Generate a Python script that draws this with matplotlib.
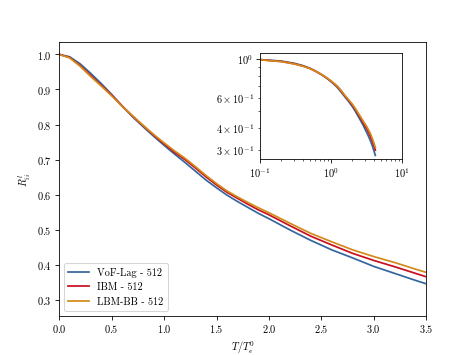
import matplotlib
matplotlib.use("Agg")
import matplotlib.pyplot as plt

plt.rcParams['font.family'] = 'serif'
plt.rcParams['font.serif'] = ['cmr10', 'DejaVu Serif']
plt.rcParams['mathtext.fontset'] = 'cm'
plt.rcParams['axes.formatter.use_mathtext'] = True
plt.rcParams['axes.unicode_minus'] = False

t = [0.0, 0.1, 0.2, 0.3, 0.4, 0.5, 0.6, 0.7, 0.8, 0.9, 1.0, 1.1, 1.2, 1.3, 1.4,
     1.5, 1.6, 1.7, 1.8, 1.9, 2.0, 2.2, 2.4, 2.6, 2.8, 3.0, 3.2, 3.4, 3.6, 3.8,
     4.0, 4.2]
vof = [1.0, 0.993, 0.973, 0.946, 0.917, 0.886, 0.853, 0.822, 0.794, 0.767, 0.741,
       0.716, 0.692, 0.667, 0.642, 0.620, 0.599, 0.581, 0.564, 0.547, 0.532,
       0.500, 0.470, 0.443, 0.420, 0.396, 0.376, 0.356, 0.337, 0.318, 0.298, 0.279]
ibm = [1.0, 0.991, 0.968, 0.940, 0.912, 0.884, 0.853, 0.824, 0.797, 0.770, 0.745,
       0.721, 0.700, 0.676, 0.651, 0.628, 0.607, 0.590, 0.573, 0.557, 0.543,
       0.512, 0.482, 0.457, 0.433, 0.413, 0.395, 0.376, 0.357, 0.337, 0.318, 0.299]
lbm = [1.0, 0.990, 0.966, 0.937, 0.910, 0.882, 0.852, 0.825, 0.798, 0.772, 0.748,
       0.725, 0.704, 0.680, 0.655, 0.632, 0.611, 0.594, 0.578, 0.563, 0.549,
       0.519, 0.490, 0.466, 0.443, 0.424, 0.407, 0.388, 0.370, 0.350, 0.330, 0.310]

labels = ['VoF-Lag - 512', 'IBM - 512', 'LBM-BB - 512']
colors = ['#35679e', '#c8101e', '#d48a1a']
series = [vof, ibm, lbm]

fig = plt.figure(figsize=(6.4, 4.8), dpi=74)
ax = fig.add_subplot(111)
for s, lab, c in zip(series, labels, colors):
    ax.plot(t, s, color=c, lw=1.7, label=lab)
ax.set_xlim(0, 3.5)
ax.set_ylim(0.255, 1.034)
ax.set_xlabel(r'$T/T_e^0$')
ax.set_ylabel(r'$R^l_{ii}$')
ax.legend(loc='lower left')

ins = fig.add_axes([0.549, 0.551, 0.30, 0.30])
for s, c in zip(series, colors):
    ins.plot(t, s, color=c, lw=1.7)
ins.set_xscale('log')
ins.set_yscale('log')
ins.set_xlim(0.1, 10)
ins.set_ylim(0.265, 1.087)

fig.savefig('out.png', dpi=74)
